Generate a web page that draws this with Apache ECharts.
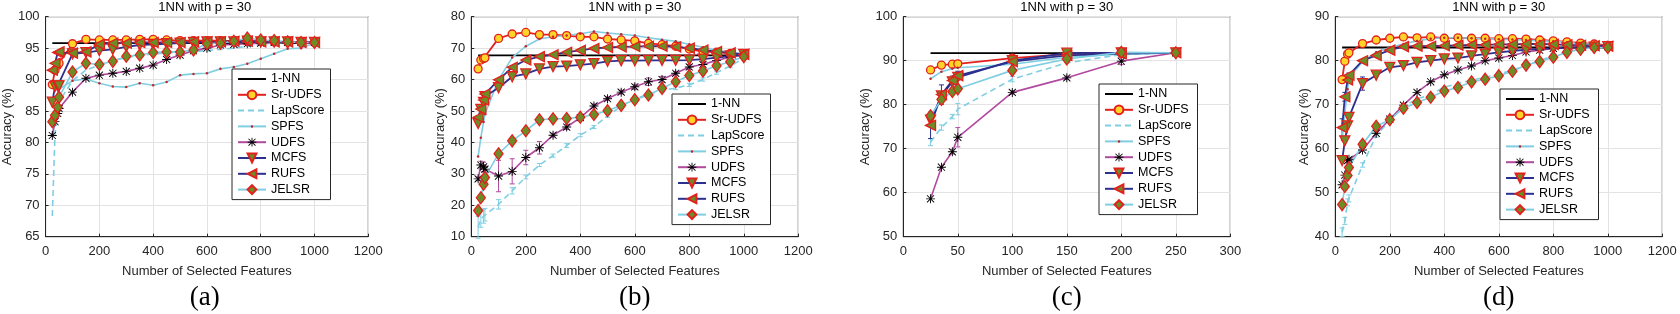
<!DOCTYPE html>
<html>
<head>
<meta charset="utf-8">
<script src="https://cdn.jsdelivr.net/npm/echarts@6/dist/echarts.min.js"></script>
<style>
  html, body { margin: 0; padding: 0; background: #fff; }
  #chart { width: 1680px; height: 314px; }
</style>
</head>
<body>
<div id="chart"></div>
<script>
// number of selected features
const xAll = [25, 35, 45, 50, 100, 150, 200, 250, 300, 350, 400, 450, 500, 550, 600, 650, 700, 750, 800, 850, 900, 950, 1000]
const xC = [25, 35, 45, 50, 100, 150, 200, 250]

const methods = ['1-NN', 'Sr-UDFS', 'LapScore', 'SPFS', 'UDFS', 'MCFS', 'RUFS', 'JELSR']

// (a)
const nnA = 95.8
const srA = [89.2, 91.5, 92.3, 92.6, 95.7, 96.4, 96.3, 96.3, 96.3, 96.4, 96.4, 96.3, 96.2, 96.2, 96.2, 96.2, 96.1, 96.1, 96.1, 96.0, 96.0, 95.9, 95.9]
const lapA = [68.3, 81.3, 85.0, 86.5, 89.8, 91.5, 92.3, 93.0, 93.5, 93.8, 94.1, 94.2, 94.4, 94.5, 94.6, 94.8, 95.0, 95.3, 95.6, 95.8, 95.9, 95.9, 95.9]
const spA = [81.3, 83.5, 87.0, 88.5, 89.8, 90.1, 89.4, 88.9, 88.8, 89.4, 89.1, 89.6, 90.7, 90.9, 91.0, 91.7, 92.0, 92.5, 93.3, 94.1, 94.9, 95.0, 95.8]
const udA = [81.1, 83.3, 84.6, 85.4, 88.0, 90.2, 90.7, 91.0, 91.3, 91.8, 92.3, 93.2, 93.9, 94.6, 95.0, 95.5, 95.6, 95.7, 95.8, 95.9, 95.9, 95.9, 95.9]
const mcA = [86.4, 88.9, 89.0, 89.0, 94.1, 94.3, 94.6, 94.8, 95.2, 95.5, 95.6, 95.7, 95.8, 95.9, 96.0, 96.0, 96.0, 96.1, 96.0, 96.0, 96.0, 95.9, 95.9]
const ruA = [91.5, 92.6, 94.3, 94.4, 94.2, 94.4, 95.6, 95.8, 95.8, 95.9, 95.9, 95.9, 95.9, 96.0, 96.0, 96.0, 96.1, 96.1, 96.0, 96.0, 96.0, 95.9, 95.9]
const jeA = [83.3, 84.3, 85.6, 87.2, 91.2, 92.6, 92.4, 92.9, 93.7, 93.9, 94.3, 94.4, 94.4, 94.7, 95.7, 95.8, 96.1, 96.6, 96.3, 96.2, 96.0, 95.9, 95.9]

// (b)
const nnB = 67.7
const srB = [63.4, 66.2, 66.7, 66.9, 73.1, 74.5, 75.0, 74.3, 74.3, 74.0, 73.6, 73.6, 72.9, 72.6, 72.3, 71.5, 71.1, 70.6, 69.7, 68.9, 68.7, 68.3, 67.9]
const lapB = [13.0, 15.5, 16.5, 17.0, 20.3, 24.6, 29.0, 32.8, 35.8, 39.0, 42.3, 44.9, 48.5, 51.5, 53.8, 55.4, 56.5, 57.3, 58.3, 60.0, 62.2, 64.3, 66.8]
const spB = [35.5, 41.5, 46.5, 49.0, 60.0, 67.0, 70.6, 72.9, 73.6, 74.0, 74.6, 75.3, 74.8, 74.4, 74.0, 73.3, 72.7, 72.2, 71.2, 70.3, 69.3, 68.7, 68.1]
const udB = [28.4, 32.8, 32.2, 31.5, 29.3, 30.8, 35.2, 38.3, 42.3, 44.9, 47.9, 51.6, 53.9, 56.0, 57.7, 59.3, 60.0, 62.0, 64.0, 64.8, 66.1, 67.1, 67.8]
const mcB = [46.0, 50.5, 52.7, 54.6, 57.4, 60.9, 61.8, 63.4, 64.1, 64.3, 64.7, 65.1, 65.8, 66.0, 66.0, 66.1, 66.1, 66.1, 66.2, 66.5, 67.0, 67.5, 68.0]
const ruB = [48.0, 50.6, 53.5, 55.4, 59.9, 63.9, 66.2, 67.3, 67.9, 68.7, 69.3, 69.9, 70.2, 70.4, 70.5, 70.6, 70.6, 70.4, 70.0, 69.4, 68.9, 68.5, 68.0]
const jeB = [18.3, 22.4, 26.7, 28.8, 36.4, 40.5, 43.7, 47.2, 47.5, 47.6, 48.0, 48.9, 50.1, 51.8, 53.6, 55.1, 57.2, 59.3, 61.3, 62.7, 64.4, 65.7, 67.3]
const errLapB = [3.5, 2.5, 2.2, 2.0, 1.5, 1.0, 0.6, 0.5, 0.5, 0.6, 0.5, 0.5, 0.5, 0.5, 0.5, 0.5, 0.5, 0.5, 0.5, 0.5, 0.5, 0.5, 0.5]
const errUdB = [0.6, 1.2, 1.5, 1.0, 5.0, 4.0, 2.3, 2.0, 0.6, 0.8, 0.8, 0.6, 0.6, 0.6, 0.8, 1.2, 1.0, 0.6, 0.8, 0.6, 0.5, 0.5, 0.5]

// (c)
const nnC = 91.7
const srC = [87.9, 89.0, 89.2, 89.3, 90.6, 91.5, 91.7, 91.8]
const lapC = [71.5, 74.8, 77.3, 79.0, 85.8, 89.5, 91.4, 91.8]
const spC = [85.9, 87.5, 88.2, 88.4, 89.2, 90.8, 91.5, 91.8]
const udC = [58.6, 65.8, 69.3, 72.6, 82.8, 86.1, 89.9, 91.8]
const mcC = [76.5, 82.0, 85.2, 86.2, 90.0, 91.7, 91.8, 91.8]
const ruC = [75.3, 82.3, 85.5, 86.6, 89.8, 91.2, 91.6, 91.8]
const jeC = [77.5, 81.2, 83.0, 83.6, 87.8, 90.4, 91.9, 91.8]
const errLapC = [0.8, 0.6, 0.5, 1.3, 0.6, 0, 0, 0]
const errUdC = [0, 0, 0.5, 2.2, 0.4, 0.4, 0.8, 0]
const errRuC = [3.0, 2.2, 1.0, 1.0, 0.4, 0, 0, 0]

// (d)
const nnD = 83.0
const srD = [75.7, 79.9, 81.5, 81.8, 83.9, 84.7, 85.1, 85.4, 85.2, 85.4, 85.1, 85.2, 85.1, 85.1, 85.0, 85.0, 84.9, 84.7, 84.5, 84.3, 84.0, 83.8, 83.5]
const lapD = [41.0, 43.6, 47.8, 48.7, 56.3, 63.0, 66.4, 69.6, 71.3, 72.3, 74.0, 74.8, 75.6, 76.2, 77.0, 77.8, 79.0, 80.0, 81.2, 82.0, 82.6, 83.0, 83.0]
const spD = [62.0, 68.0, 73.5, 76.0, 79.8, 81.9, 83.0, 83.8, 84.5, 85.0, 85.2, 85.2, 85.1, 85.0, 84.9, 84.8, 84.7, 84.5, 84.4, 84.2, 83.9, 83.6, 83.3]
const udD = [51.8, 54.0, 57.3, 57.6, 59.7, 63.5, 66.7, 69.9, 72.8, 75.2, 76.8, 77.9, 78.8, 80.0, 80.6, 81.2, 82.0, 82.4, 82.8, 83.0, 83.1, 83.2, 83.2]
const mcD = [57.3, 61.8, 65.2, 67.1, 74.8, 76.7, 78.5, 78.9, 79.6, 80.0, 80.4, 80.6, 81.1, 81.5, 81.9, 82.2, 82.5, 82.7, 82.8, 82.9, 83.0, 83.1, 83.2]
const ruD = [64.8, 71.8, 75.6, 76.7, 80.0, 81.2, 82.4, 83.2, 83.3, 83.3, 83.4, 83.5, 83.6, 83.6, 83.7, 83.7, 83.8, 83.8, 83.7, 83.6, 83.5, 83.4, 83.3]
const jeD = [47.3, 51.4, 53.9, 55.7, 61.0, 65.1, 66.6, 69.2, 70.5, 71.7, 73.1, 73.9, 75.2, 75.8, 76.6, 77.6, 79.0, 79.8, 80.8, 81.9, 82.6, 83.0, 83.0]
const errLapD = [1.0, 0.8, 0.8, 0.8, 0.5, 0.4, 0, 0, 0, 0, 0, 0, 0, 0, 0, 0, 0, 0, 0, 0, 0, 0, 0]
const errMcD = [0, 0, 0, 0, 1.5, 0, 0, 0, 0, 0, 0, 0, 0, 0, 0, 0, 0, 0, 0, 0, 0, 0, 0]
const errRuD = [2.0, 1.0, 0.5, 0.5, 0, 0, 0, 0, 0, 0, 0, 0, 0, 0, 0, 0, 0, 0, 0, 0, 0, 0, 0]

const FONT = '"Liberation Sans", Arial, Helvetica, sans-serif'
const RED = '#e3201d'
const YELLOW = '#ffd428'
const CYAN = '#7fcee2'
const BLUE = '#2b2f8e'
const MAG = '#b14a9f'
const OLIVE = '#6e8c25'
const AXIS = '#262626'

// asterisk and small dot markers
const STAR = 'path://M0 9L20 9L20 11L0 11ZM9 0L11 0L11 20L9 20ZM1.4 2.8L2.8 1.4L18.6 17.2L17.2 18.6ZM17.2 1.4L18.6 2.8L2.8 18.6L1.4 17.2Z'
const DOT = 'path://M0 0M10 10M3.6 5A1.4 1.4 0 1 1 6.4 5A1.4 1.4 0 1 1 3.6 5Z'

const styles = {
  '1-NN': { color: '#000', width: 1.8, symbol: 'none' },
  'Sr-UDFS': { color: RED, width: 1.8, symbol: 'circle', size: 8, fill: YELLOW, border: RED },
  'LapScore': { color: CYAN, width: 1.6, dash: [6, 4], symbol: 'none' },
  'SPFS': { color: CYAN, width: 1.6, symbol: DOT, size: 9, fill: '#c0282d' },
  'UDFS': { color: MAG, width: 1.6, symbol: STAR, size: 9, fill: '#000' },
  'MCFS': { color: BLUE, width: 1.8, symbol: 'triangle', rotate: 180, size: 10, fill: OLIVE, border: RED },
  'RUFS': { color: BLUE, width: 1.8, symbol: 'triangle', rotate: 90, size: 10, fill: OLIVE, border: RED },
  'JELSR': { color: CYAN, width: 1.6, symbol: 'diamond', size: [9, 12], fill: OLIVE, border: RED }
}

const plots = [
  { label: '(a)', left: 41.3, xs: xAll, xMax: 1200, xInt: 200, yMin: 65, yMax: 100, yInt: 5, yGap: 31,
    legend: [232, 69], values: [nnA, srA, lapA, spA, udA, mcA, ruA, jeA], errs: [] },
  { label: '(b)', left: 471.3, xs: xAll, xMax: 1200, xInt: 200, yMin: 10, yMax: 80, yInt: 10, yGap: 22,
    legend: [672, 94], values: [nnB, srB, lapB, spB, udB, mcB, ruB, jeB],
    errs: [['LapScore', lapB, errLapB], ['UDFS', udB, errUdB]] },
  { label: '(c)', left: 903.3, xs: xC, xMax: 300, xInt: 50, yMin: 50, yMax: 100, yInt: 10, yGap: 28,
    legend: [1099, 84], values: [nnC, srC, lapC, spC, udC, mcC, ruC, jeC],
    errs: [['LapScore', lapC, errLapC], ['UDFS', udC, errUdC], ['RUFS', ruC, errRuC]] },
  { label: '(d)', left: 1335.3, xs: xAll, xMax: 1200, xInt: 200, yMin: 40, yMax: 90, yInt: 10, yGap: 22,
    legend: [1500, 89], values: [nnD, srD, lapD, spD, udD, mcD, ruD, jeD],
    errs: [['LapScore', lapD, errLapD], ['MCFS', mcD, errMcD], ['RUFS', ruD, errRuD]] }
]

const PW = 327, TOP = 16.7, PH = 220

const errRender = (color) => (params, api) => {
  const x = api.value(0)
  const lo = api.coord([x, api.value(1)])
  const hi = api.coord([x, api.value(2)])
  const w = 2.5
  const st = { stroke: color, lineWidth: 1 }
  return {
    type: 'group',
    children: [
      { type: 'line', shape: { x1: lo[0], y1: lo[1], x2: hi[0], y2: hi[1] }, style: st },
      { type: 'line', shape: { x1: lo[0] - w, y1: lo[1], x2: lo[0] + w, y2: lo[1] }, style: st },
      { type: 'line', shape: { x1: hi[0] - w, y1: hi[1], x2: hi[0] + w, y2: hi[1] }, style: st }
    ]
  }
}

const grids = [], xAxes = [], yAxes = [], series = [], legends = [], texts = []

plots.forEach((p, i) => {
  grids.push({ left: p.left, top: TOP, width: PW, height: PH, show: true, borderColor: AXIS, borderWidth: 1, backgroundColor: '#fff' })
  xAxes.push({
    gridIndex: i, type: 'value', min: 0, max: p.xMax, interval: p.xInt,
    name: 'Number of Selected Features', nameLocation: 'middle', nameGap: 28,
    nameTextStyle: { fontSize: 13, color: AXIS, fontFamily: FONT },
    axisLine: { lineStyle: { color: AXIS } },
    axisTick: { inside: true, length: 3, lineStyle: { color: AXIS } },
    axisLabel: { fontSize: 13, color: AXIS, margin: 8, fontFamily: FONT, formatter: (v) => String(v) },
    splitLine: { lineStyle: { color: '#e3e3e3' } }
  })
  yAxes.push({
    gridIndex: i, type: 'value', min: p.yMin, max: p.yMax, interval: p.yInt,
    name: 'Accuracy (%)', nameLocation: 'middle', nameGap: p.yGap,
    nameTextStyle: { fontSize: 13, color: AXIS, fontFamily: FONT },
    axisLine: { show: true, lineStyle: { color: AXIS } },
    axisTick: { show: true, inside: true, length: 3, lineStyle: { color: AXIS } },
    axisLabel: { fontSize: 13, color: AXIS, margin: 6, fontFamily: FONT, formatter: (v) => String(v) },
    splitLine: { lineStyle: { color: '#e3e3e3' } }
  })

  // error bars below the lines
  p.errs.forEach(([name, ys, es]) => {
    const data = []
    p.xs.forEach((x, k) => { if (es[k] > 0) data.push([x, ys[k] - es[k], ys[k] + es[k]]) })
    series.push({
      type: 'custom', xAxisIndex: i, yAxisIndex: i, silent: true,
      renderItem: errRender(styles[name].color),
      encode: { x: 0, y: [1, 2] }, data
    })
  })

  methods.forEach((m, j) => {
    const s = styles[m]
    const v = p.values[j]
    const ys = Array.isArray(v) ? v : p.xs.map(() => v)
    series.push({
      name: m, type: 'line', xAxisIndex: i, yAxisIndex: i,
      data: p.xs.map((x, k) => [x, ys[k]]),
      symbol: s.symbol, symbolSize: s.size || 4, symbolRotate: s.rotate || 0,
      showSymbol: s.symbol !== 'none', showAllSymbol: true,
      lineStyle: { color: s.color, width: s.width, type: s.dash || 'solid' },
      itemStyle: { color: s.fill || s.color, borderColor: s.border || s.fill || s.color, borderWidth: s.border ? 1.3 : 0 },
      emphasis: { disabled: true }
    })
  })

  legends.push({
    left: p.legend[0], top: p.legend[1], orient: 'vertical',
    itemWidth: 28, itemHeight: 11, itemGap: 1.8,
    padding: [3, 6, 3, 5], backgroundColor: '#fff', borderColor: AXIS, borderWidth: 1,
    selectedMode: false,
    textStyle: { fontSize: 12.5, lineHeight: 14, color: '#000', fontFamily: FONT },
    data: methods.map((m) => styles[m].symbol === 'none'
      ? { name: m, itemStyle: { color: 'rgba(0,0,0,0)', borderWidth: 0 } }
      : { name: m })
  })

  const cx = p.left + PW / 2
  texts.push({ type: 'text', x: cx, y: 7, style: { text: '1NN with p = 30', align: 'center', verticalAlign: 'middle', fontSize: 13, fontFamily: FONT, fill: '#000' } })
  texts.push({ type: 'text', x: cx, y: 298, style: { text: p.label, align: 'center', verticalAlign: 'middle', fontSize: 27, fontFamily: '"Liberation Serif", "Times New Roman", serif', fill: '#000' } })
})

const chart = echarts.init(document.getElementById('chart'))
chart.setOption({
  animation: false,
  grid: grids,
  xAxis: xAxes,
  yAxis: yAxes,
  legend: legends,
  series,
  graphic: texts
})
</script>
</body>
</html>
